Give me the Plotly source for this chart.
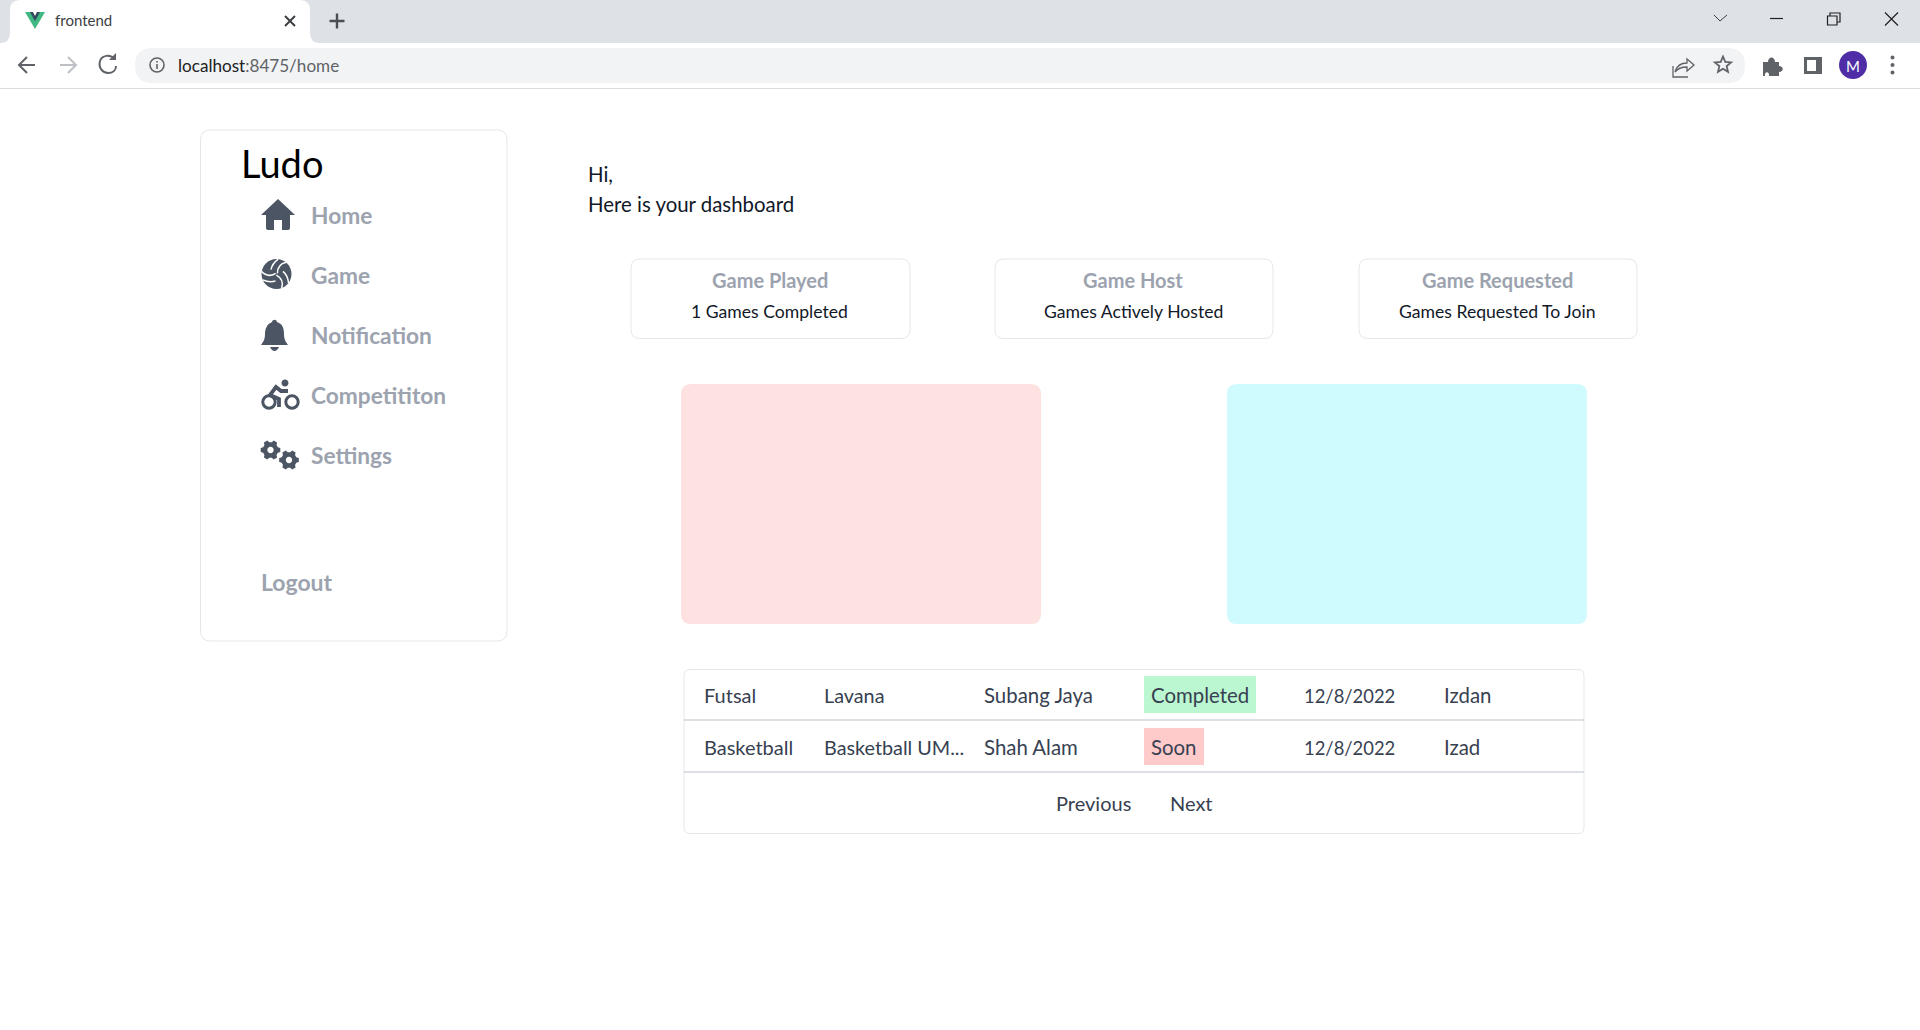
#!/usr/bin/env python3
# plot.py - Ludo dashboard screenshot redrawn with plotly shapes and annotations
import math
import plotly.graph_objects as go

TAB_TITLE = "frontend"
URL_HOST = "localhost"
URL_REST = ":8475/home"
BRAND = "Ludo"
GREETING = ["Hi,", "Here is your dashboard"]
NAV_LABELS = ["Home", "Game", "Notification", "Competititon", "Settings"]
LOGOUT = "Logout"
STAT_TITLES = ["Game Played", "Game Host", "Game Requested"]
STAT_CAPTIONS = ["1 Games Completed", "Games Actively Hosted", "Games Requested To Join"]

GAME_SPORT = ["Futsal", "Basketball"]
GAME_VENUE = ["Lavana", "Basketball UM..."]
GAME_CITY = ["Subang Jaya", "Shah Alam"]
GAME_STATUS = ["Completed", "Soon"]
GAME_DATE = ["12/8/2022", "12/8/2022"]
GAME_HOST = ["Izdan", "Izad"]
PAGER = ["Previous", "Next"]
AVATAR = "M"

W, H = 1920, 1030
FONT = "Lato"
BORDER = "#E5E7EB"
ICON = "#4B5563"
MUTED = "#9CA3AF"
TABLE_TEXT = "#374151"
CHROME_ICON = "#5F6368"

fig = go.Figure()


# ----------------------------------------------------------
# helpers
# ----------------------------------------------------------
def path(d, fill=None, line=None, width=0):
    fig.add_shape(type="path", path=d, xref="x", yref="y",
                  fillcolor=fill or "rgba(0,0,0,0)",
                  line=dict(color=line or "rgba(0,0,0,0)", width=width))


def text(x, y, s, size=20, color="#111827", anchor="left", weight=None, family=FONT):
    # annotations sit about a pixel low and right of the css text box
    fig.add_annotation(x=x - 1, y=y - 1, text=s, xref="x", yref="y", showarrow=False,
                       xanchor=anchor, yanchor="middle", borderpad=0,
                       font=dict(family=family, size=size, color=color, weight=weight))


def rrect(x0, y0, x1, y1, r):
    return (f"M{x0+r},{y0} L{x1-r},{y0} Q{x1},{y0} {x1},{y0+r} L{x1},{y1-r} "
            f"Q{x1},{y1} {x1-r},{y1} L{x0+r},{y1} Q{x0},{y1} {x0},{y1-r} "
            f"L{x0},{y0+r} Q{x0},{y0} {x0+r},{y0} Z")


def circle(cx, cy, r):
    k = r * 0.5523
    return (f"M{cx-r},{cy} C{cx-r},{cy-k} {cx-k},{cy-r} {cx},{cy-r} "
            f"C{cx+k},{cy-r} {cx+r},{cy-k} {cx+r},{cy} "
            f"C{cx+r},{cy+k} {cx+k},{cy+r} {cx},{cy+r} "
            f"C{cx-k},{cy+r} {cx-r},{cy+k} {cx-r},{cy} Z")


def gear(cx, cy, r, hole, teeth=6):
    pts = []
    step = 2 * math.pi / teeth
    for i in range(teeth):
        a = i * step
        for da, rad in ((-0.36, 0.78), (-0.2, 1.0), (0.2, 1.0), (0.36, 0.78)):
            pts.append((cx + r * rad * math.cos(a + da), cy + r * rad * math.sin(a + da)))
    d = "M" + " L".join(f"{x:.2f},{y:.2f}" for x, y in pts) + " Z"
    return d + " " + circle(cx, cy, hole)


def star(cx, cy, r):
    pts = []
    for i in range(10):
        a = -math.pi / 2 + i * math.pi / 5
        rad = r if i % 2 == 0 else r * 0.45
        pts.append((cx + rad * math.cos(a), cy + rad * math.sin(a)))
    return "M" + " L".join(f"{x:.2f},{y:.2f}" for x, y in pts) + " Z"


def ball_seams(cx, cy, r):
    # three seam pairs, one template turned by 120 degrees each time
    template = [
        [(0.05, -0.05), (-0.12, -0.42), (-0.02, -0.75), (0.30, -0.97)],
        [(-0.45, -0.12), (-0.52, -0.42), (-0.45, -0.68), (-0.28, -0.96)],
    ]
    d = []
    for turn in (0.4, 0.4 + 2 * math.pi / 3, 0.4 + 4 * math.pi / 3):
        c, s = math.cos(turn), math.sin(turn)
        for seg in template:
            p = [(cx + r * (x * c - y * s), cy + r * (x * s + y * c)) for x, y in seg]
            d.append(f"M{p[0][0]:.2f},{p[0][1]:.2f} C{p[1][0]:.2f},{p[1][1]:.2f} "
                     f"{p[2][0]:.2f},{p[2][1]:.2f} {p[3][0]:.2f},{p[3][1]:.2f}")
    return " ".join(d)


# ----------------------------------------------------------
# browser chrome
# ----------------------------------------------------------
path(f"M0,0 L{W},0 L{W},43 L0,43 Z", fill="#DEE1E6")
path("M0,43 Q10,43 10,33 L10,10 Q10,0 20,0 L300,0 Q310,0 310,10 L310,33 Q310,43 320,43 Z", fill="#FFFFFF")
path("M25,12 L32,12 L35,17 L38,12 L45,12 L35,29 Z", fill="#41B883")
path("M30,12 L33,12 L35,16 L37,12 L40,12 L35,21 Z", fill="#35495E")
text(55, 21, TAB_TITLE, size=15, color="#3C4043")
path("M285,16 L295,26 M295,16 L285,26", line="#3C4043", width=2)
path("M337,13.5 L337,28.5 M329.5,21 L344.5,21", line="#4A4D52", width=2.4)

path(f"M0,88.5 L{W},88.5", line="#DADCE0", width=1)
path(rrect(135, 48, 1745, 83, 17.5), fill="#F1F3F4")
path("M35,65 L19,65 M27,57 L19,65 L27,73", line=CHROME_ICON, width=2)
path("M60,65 L76,65 M68,57 L76,65 L68,73", line="#BDC1C6", width=2)
path("M115,59 C110,54 102,55 100,61 C98,68 103,73 108,73 C113,73 116,70 116,66",
     line=CHROME_ICON, width=2)
path("M116,53 L116,60 L109,60 Z", fill=CHROME_ICON)
path(circle(157, 65, 7), line=CHROME_ICON, width=1.6)
path("M157,61 L157,62.5 M157,64 L157,69", line=CHROME_ICON, width=1.6)
text(178, 66, f'{URL_HOST}<span style="color:#5F6368">{URL_REST}</span>', size=17.1, color="#202124")

# right side of the toolbar
path("M1673,66 L1673,77 L1688,77 M1675,72 C1677,65 1682,63 1687,63 L1687,59 L1694,65 L1687,71 L1687,67 C1682,67 1678,68 1675,72",
     line=CHROME_ICON, width=1.3)
path(star(1723, 65, 8.5), line=CHROME_ICON, width=1.8)
path("M1763,62 L1768,62 C1768,56 1775,56 1775,62 L1779,62 L1779,66 C1784,66 1784,72 1779,72 L1779,76 "
     "L1769,76 C1770,71 1764,71 1765,76 L1763,76 Z", fill=CHROME_ICON)
path("M1804,57 L1822,57 L1822,74 L1804,74 Z M1807,60 L1816,60 L1816,71 L1807,71 Z", fill=CHROME_ICON)
path(circle(1853, 65, 14), fill="#4E2DA6")
text(1854, 66.5, AVATAR, size=15, color="#FFFFFF", anchor="center")
for dot_y in (57.5, 65, 72.5):
    path(circle(1892.5, dot_y, 2), fill=CHROME_ICON)

# window controls
path("M1714,15 L1720,21 L1727,15", line="#3C4043", width=1)
path("M1770,18.5 L1783,18.5", line="#202124", width=1.2)
path("M1827.5,16 L1827.5,25 L1837,25 L1837,16 Z M1830,16 L1830,13 L1840,13 L1840,22 L1837,22", line="#202124", width=1.2)
path("M1885,12.5 L1898,25.5 M1898,12.5 L1885,25.5", line="#202124", width=1.2)

# ----------------------------------------------------------
# side menu
# ----------------------------------------------------------
path(rrect(200.5, 130, 507, 641, 10), fill="#FFFFFF", line=BORDER, width=1)
text(241, 164, BRAND, size=38, color="#000000")

NAV_Y = [216, 276, 336, 396, 456]
for label, y in zip(NAV_LABELS, NAV_Y):
    text(311, y, label, size=22.7, color=MUTED, weight=700)
text(261, 583, LOGOUT, size=23, color=MUTED, weight=700)

# home
path("M278,199 L295,215 L290,215 L290,228 Q290,230 288,230 L282,230 L282,220 L274,220 L274,230 "
     "L268,230 Q266,230 266,228 L266,215 L261,215 Z", fill=ICON)
# ball
path(circle(276.5, 274, 15), fill=ICON)
path(ball_seams(276.5, 274, 15), line="#FFFFFF", width=1.5)
# bell
path("M274,320 Q276,319 277,322 C283,324 284,329 284,334 C284,340 286,342 288,345 L261,345 "
     "C263,342 265,340 265,334 C265,329 267,324 272,322 Q272,320 274,320 Z", fill=ICON)
path("M270,347 L279,347 Q277,351 274.5,351 Q272,351 270,347 Z", fill=ICON)
# bike
for cx in (269, 292):
    path(circle(cx, 402, 6.2), line=ICON, width=3)
path(circle(285, 383, 3.5), fill=ICON)
path("M288,391 L281,391 L276,387 L270,395 L279,399 L279,407", line=ICON, width=3.8)
# gears
path(gear(270.5, 450, 10, 3.2), fill=ICON)
path(gear(289, 460, 10, 3.2), fill=ICON)

# ----------------------------------------------------------
# greeting, stat cards, colour panels
# ----------------------------------------------------------
text(588, 175, GREETING[0], size=20.4, color="#111827")
text(588, 205, GREETING[1], size=20.4, color="#111827")

CARD_X = [(631, 910), (995, 1273), (1359, 1637)]
for (x0, x1), title, caption in zip(CARD_X, STAT_TITLES, STAT_CAPTIONS):
    path(rrect(x0, 259, x1, 338.5, 9), fill="#FFFFFF", line=BORDER, width=1)
    mid = (x0 + x1) / 2
    text(mid, 281, title, size=20, color=MUTED, anchor="center", weight=700)
    text(mid, 312, caption, size=17.6, color="#111827", anchor="center")

path(rrect(681, 384, 1041, 624, 10), fill="#FEE2E2")
path(rrect(1227, 384, 1587, 624, 10), fill="#CFFAFE")

# ----------------------------------------------------------
# games table
# ----------------------------------------------------------
path(rrect(684, 669.5, 1584, 833.5, 6), fill="#FFFFFF", line=BORDER, width=1)
for y in (720, 772):
    path(f"M684,{y} L1584,{y}", line="#D1D5DB", width=1.5)

ROW_Y = [696, 748]
CHIP_X1 = [1256, 1204]
CHIP_Y = [(676, 713), (728, 765)]
CHIP_FILL = ["#BBF7D0", "#FECACA"]
for i, y in enumerate(ROW_Y):
    path(f"M1144,{CHIP_Y[i][0]} L{CHIP_X1[i]},{CHIP_Y[i][0]} L{CHIP_X1[i]},{CHIP_Y[i][1]} L1144,{CHIP_Y[i][1]} Z",
         fill=CHIP_FILL[i])
    text(704, y, GAME_SPORT[i], color=TABLE_TEXT)
    text(824, y, GAME_VENUE[i], size=19.8, color=TABLE_TEXT)
    text(984, y, GAME_CITY[i], size=20.4, color=TABLE_TEXT)
    text(1151, y, GAME_STATUS[i], size=20.4, color=TABLE_TEXT)
    text(1304, y + 0.5, GAME_DATE[i], size=18.4, color=TABLE_TEXT)
    text(1444, y, GAME_HOST[i], size=20.4, color=TABLE_TEXT)

text(1094, 804, PAGER[0], color=TABLE_TEXT, anchor="center")
text(1192, 804, PAGER[1], color=TABLE_TEXT, anchor="center")

fig.update_layout(
    width=W, height=H,
    margin=dict(l=0, r=0, t=0, b=0),
    paper_bgcolor="#FFFFFF", plot_bgcolor="#FFFFFF",
    showlegend=False,
    xaxis=dict(range=[0, W], visible=False, fixedrange=True),
    yaxis=dict(range=[H, 0], visible=False, fixedrange=True),
)

fig.write_html("out.html", config={"displayModeBar": False},
               post_script="document.body.style.margin='0';document.body.style.overflow='hidden';")
